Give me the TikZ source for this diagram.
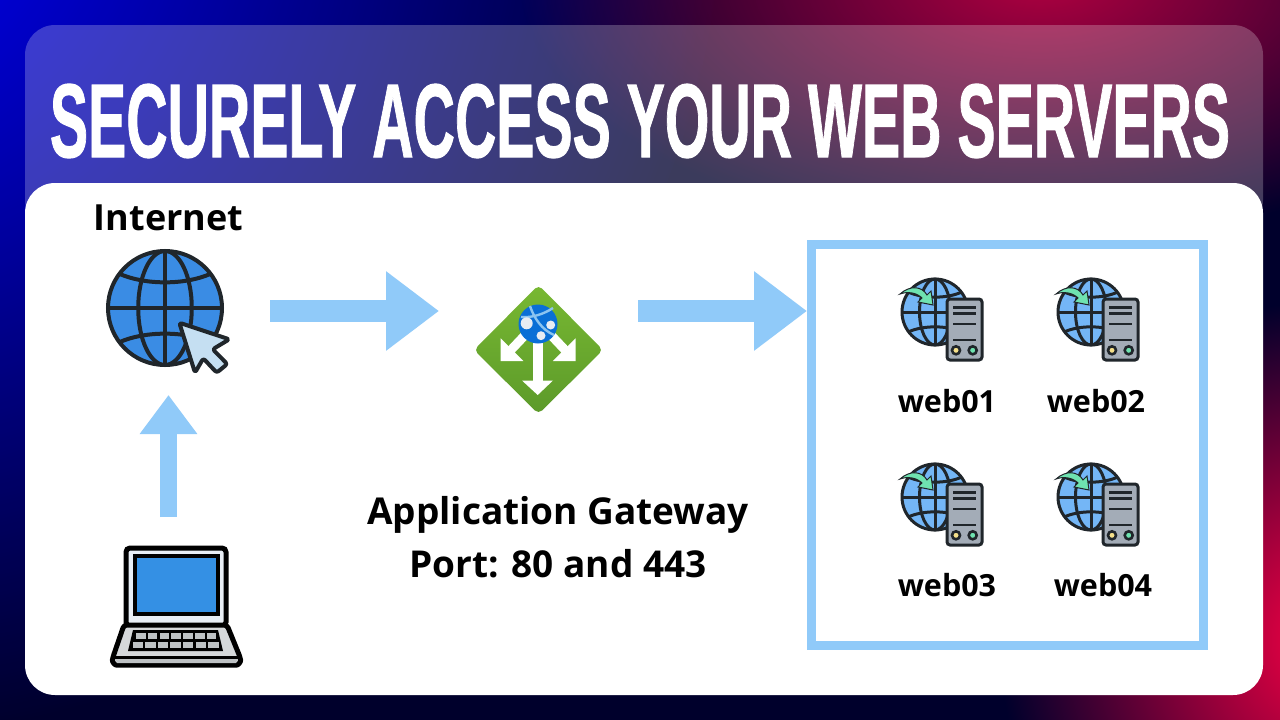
\documentclass[tikz,border=0pt]{standalone}
\usepackage{fontspec}
\usepackage{graphicx}
\setmainfont{Open Sans}
\newfontfamily\titlefont[BoldFont={Liberation Sans Bold},BoldFeatures={FakeBold=1.2}]{Liberation Sans}
\usetikzlibrary{arrows.meta,fadings,shadings}
\definecolor{navy}{HTML}{00002C}
\definecolor{ink}{HTML}{20262B}
\definecolor{sky}{HTML}{90CAF9}
\definecolor{globeblue}{HTML}{3A8CE4}
\definecolor{globelight}{HTML}{74B6F6}
\definecolor{mintgreen}{HTML}{6FE3B0}
\definecolor{srvgray}{HTML}{A3ACB7}
\definecolor{dotyellow}{HTML}{F5E08A}
\definecolor{redblob}{HTML}{B00040}
\definecolor{pinkblob}{HTML}{FF0045}
\definecolor{cursorblue}{HTML}{C5DFF2}
\definecolor{gwtop}{HTML}{78B832}
\definecolor{gwbot}{HTML}{5C9A2A}
\definecolor{azure}{HTML}{0A6FD6}
\definecolor{azurelight}{HTML}{8CC4F0}
\definecolor{dotwhite}{HTML}{E8ECF2}
\definecolor{lidwhite}{HTML}{E8EEF5}
\definecolor{screenblue}{HTML}{3490E4}
\definecolor{basegray}{HTML}{D5D8DA}
\definecolor{basedark}{HTML}{BDC1C3}
\definecolor{keygray}{HTML}{BEC2C4}
\tikzfading[name=blob, inner color=transparent!0, outer color=transparent!100]
\tikzset{
  blockarrow/.style={draw=sky,line width=22pt,-{Triangle[length=53pt,width=76pt]}},
  uparrow/.style={draw=sky,line width=17pt,-{Triangle[length=39pt,width=55pt]}},
  ghost/.style={draw=none,inner sep=0pt,outer sep=0pt},
  label/.style={font=\bfseries\fontsize{37}{40}\selectfont,text=black,inner sep=0pt},
  srvlabel/.style={font=\bfseries\fontsize{30.5}{33}\selectfont,text=black,inner sep=0pt},
}
\newcommand{\globelines}{%
  \draw (0,-1) -- (0,1);
  \draw (-1,0) -- (1,0);
  \draw (0,0) circle[x radius=.47,y radius=1];
  \draw (-.8,-.6) .. controls (-.35,-.4) and (.35,-.4) .. (.8,-.6);
  \draw (-.8,.6) .. controls (-.35,.4) and (.35,.4) .. (.8,.6);
}
\newcommand{\servericon}[2]{%
  \begin{scope}[shift={(#1,#2)}]
    \begin{scope}[shift={(935,312)},x=33pt,y=-33pt,draw=ink,line width=3pt]
      \fill[globelight] (0,0) circle[radius=1];
      \globelines
      \draw (0,0) circle[radius=1];
    \end{scope}
    \filldraw[fill=mintgreen,draw=ink,line width=1pt] (900,294) .. controls (910,285) and (922,286) .. (927,295) -- (931,291) -- (933,305) -- (918,302) -- (922,298) .. controls (917,293) and (908,291) .. (900,294) -- cycle;
    \filldraw[fill=srvgray,draw=ink,line width=3pt,rounded corners=3pt] (947,299) rectangle (982,360);
    \foreach \yy in {307.3,313.3,324,340} \draw[draw=ink,line width=2.6pt] (953.3,\yy) -- (976,\yy);
    \filldraw[fill=dotyellow,draw=ink,line width=2.6pt] (956,350.3) circle[radius=4];
    \filldraw[fill=mintgreen,draw=ink,line width=2.6pt] (972.7,350.3) circle[radius=4];
  \end{scope}}
\begin{document}
\begin{tikzpicture}[x=1pt,y=-1pt]
\useasboundingbox (0,0) rectangle (1280,720);
% background
\fill[navy] (0,0) rectangle (1280,720);
\fill[blue,path fading=blob] (-170,-120) circle[x radius=900,y radius=860];
\fill[redblob,path fading=blob] (1040,-20) circle[x radius=520,y radius=260];
\fill[pinkblob,path fading=blob] (1340,640) circle[x radius=340,y radius=340];
% panels
\fill[white,opacity=.23,rounded corners=30pt] (25,25) rectangle (1263,230);
\fill[white,rounded corners=30pt] (25,183) rectangle (1263,695);
% title
\node[ghost,text=white] (title) at (640,121) {\resizebox{1180pt}{73pt}{\titlefont\bfseries SECURELY ACCESS YOUR WEB SERVERS}};
% nodes
\node[label,font=\bfseries\fontsize{36}{39}\selectfont] (internetlabel) at (168.5,218) {Internet};
\node[ghost,minimum width=203pt,minimum height=168pt] (internet) at (168.5,311) {};
\node[ghost,minimum width=199pt,minimum height=127pt] (gateway) at (538.5,311) {};
\node[ghost,minimum width=153pt,minimum height=153pt] (laptop) at (168.5,593.5) {};
\node[draw=sky,line width=9pt,minimum width=392pt,minimum height=401pt,inner sep=0pt,outer sep=4.5pt] (servers) at (1007.5,445) {};
\node[label] (gwlabel) at (558,515) {Application Gateway};
\node[label] (portlabel) at (558,564) {Port: 80 and 443};
% connectors
\draw[blockarrow] (internet.east) -- (gateway.west);
\draw[blockarrow] (gateway.east) -- (gateway.east -| servers.west);
\draw[uparrow] (laptop.north) -- (internet.south);
% internet icon
\begin{scope}[shift={(165,308)},x=57pt,y=-57pt,draw=ink,line width=4pt]
  \fill[globeblue] (0,0) circle[radius=1];
  \globelines
  \draw (0,0) circle[radius=1];
\end{scope}
\filldraw[fill=cursorblue,draw=ink,line width=4pt,line join=round,rounded corners=2.5pt] (179.3,322.7) -- (229.3,339.3) -- (212.7,349.3) -- (227.3,364) -- (216.7,372.7) -- (203.3,358.3) -- (195,372.7) -- cycle;
% gateway icon
\shade[top color=gwtop,bottom color=gwbot,rounded corners=5pt] (538.5,285) -- (603,350) -- (538.5,414) -- (474,350) -- cycle;
\fill[white] (500.7,338.3) -- (500.7,361) -- (523.3,361) -- cycle;
\fill[white] (575.5,338.3) -- (575.5,361) -- (552.8,361) -- cycle;
\draw[white,line width=9pt] (510,351) -- (527,333);
\draw[white,line width=9pt] (566,351) -- (549,333);
\fill[white] (532.5,335) rectangle (543,381);
\fill[white] (522,380.5) -- (553,380.5) -- (537.7,395) -- cycle;
\fill[azure] (538,324) circle[radius=19.5];
\draw[azurelight,line width=2.4pt] (530,306) .. controls (534,318) and (542,330) .. (554,335);
\draw[azurelight,line width=2.4pt] (521,317) .. controls (532,318) and (544,314) .. (553,308);
\fill[dotwhite] (526.7,323.3) circle[radius=6];
\fill[dotwhite] (550.7,325) circle[radius=4.5];
\fill[dotwhite] (541,335.7) circle[radius=4.5];
% servers
\servericon{0}{0}
\servericon{156}{0}
\servericon{0}{185}
\servericon{156}{185}
\node[srvlabel] (web01) at (947,401) {web01};
\node[srvlabel] (web02) at (1096,401) {web02};
\node[srvlabel] (web03) at (947,585) {web03};
\node[srvlabel] (web04) at (1103,585) {web04};
% laptop icon
\filldraw[fill=lidwhite,draw=black,line width=5pt,rounded corners=4pt] (126,548) rectangle (226,626);
\filldraw[fill=screenblue,draw=black,line width=4.5pt] (135,556) rectangle (218,614);
\filldraw[fill=basegray,draw=black,line width=5pt,line join=round,rounded corners=3pt] (124,625) -- (227,625) -- (240,657) .. controls (241,662) and (238,665) .. (234,665) -- (119,665) .. controls (115,665) and (112,662) .. (113,657) -- cycle;
\fill[basedark] (115.5,658) -- (237.5,658) -- (236,663) -- (117,663) -- cycle;
\draw[black,line width=3pt] (113,657) -- (240,657);
\fill[black] (133,630) -- (218,630) -- (223,651) -- (128,651) -- cycle;
\foreach \kx in {0,...,6} {
  \fill[keygray] ({136+\kx*11.8},633) rectangle ++(9.6,5.5);
  \fill[keygray] ({132.5+\kx*12.6},641.5) rectangle ++(10.4,6);
}
\end{tikzpicture}
\end{document}
